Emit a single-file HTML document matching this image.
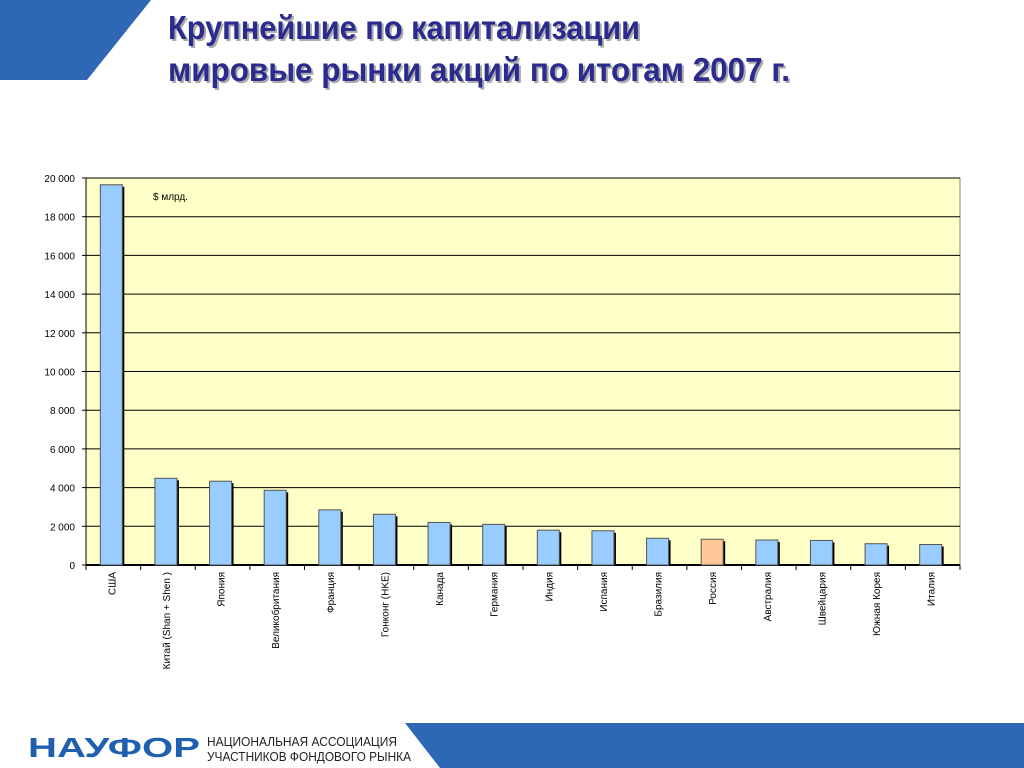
<!DOCTYPE html>
<html><head><meta charset="utf-8"><style>
body{margin:0;width:1024px;height:768px;background:#fff;overflow:hidden;position:relative;font-family:"Liberation Sans",sans-serif}
</style></head><body>
<svg width="1024" height="768" style="position:absolute;left:0;top:0">
<polygon points="0,0 151,0 87,80 0,80" fill="#2e68b4"/>
<g font-family="Liberation Sans" font-weight="bold" font-size="33" lengthAdjust="spacingAndGlyphs">
<text x="170" y="41" fill="#aaa" textLength="472" lengthAdjust="spacingAndGlyphs">Крупнейшие по капитализации</text>
<text x="170" y="83" fill="#aaa" textLength="622" lengthAdjust="spacingAndGlyphs">мировые рынки акций по итогам 2007 г.</text>
<text x="168" y="39" fill="#2b2b8f" textLength="472" lengthAdjust="spacingAndGlyphs">Крупнейшие по капитализации</text>
<text x="168" y="81" fill="#2b2b8f" textLength="622" lengthAdjust="spacingAndGlyphs">мировые рынки акций по итогам 2007 г.</text>
</g>
<polygon points="405,723 1024,723 1024,768 440,768" fill="#2e68b4"/>
<text x="28" y="757" font-family="Liberation Sans" font-weight="bold" font-size="28" fill="#1f5fb0" textLength="172" lengthAdjust="spacingAndGlyphs">НАУФОР</text>
<text x="207" y="746" font-family="Liberation Sans" font-size="13" fill="#222" textLength="190" lengthAdjust="spacingAndGlyphs">НАЦИОНАЛЬНАЯ АССОЦИАЦИЯ</text>
<text x="207" y="761" font-family="Liberation Sans" font-size="13" fill="#222" textLength="204" lengthAdjust="spacingAndGlyphs">УЧАСТНИКОВ ФОНДОВОГО РЫНКА</text>
<g id="chart"></g>
</svg>
<script>
const categories=["США","Китай (Shan + Shen )","Япония","Великобритания","Франция","Гонконг (HKE)","Канада","Германия","Индия","Испания","Бразилия","Россия","Австралия","Швейцария","Южная Корея","Италия"];
const values=[19650,4480,4330,3860,2850,2620,2200,2100,1800,1770,1380,1330,1290,1270,1100,1060];
const highlight=["Россия"];
const yTicks=[0,2000,4000,6000,8000,10000,12000,14000,16000,18000,20000];
const tickLabels=["0","2 000","4 000","6 000","8 000","10 000","12 000","14 000","16 000","18 000","20 000"];
const NS="http://www.w3.org/2000/svg";
const g=document.getElementById("chart");
const L=86,R=960,T=178,B=565,yMax=20000;
const y=v=>B-(v/yMax)*(B-T);
const bw=(R-L)/categories.length;
const x=i=>L+bw*i;
function mk(t,a,p){const e=document.createElementNS(NS,t);for(const k in a)e.setAttribute(k,a[k]);(p||g).appendChild(e);return e;}
const bg=mk("rect",{x:L,y:T,width:R-L,height:B-T,fill:"#ffffc8",stroke:"#888"});


yTicks.forEach((v,i)=>{
 if(v>0){const gl=mk("line",{x1:L,x2:R,y1:y(v),y2:y(v),stroke:"#000","stroke-width":1});
 
 }
 mk("line",{x1:L-4,x2:L,y1:y(v),y2:y(v),stroke:"#000"});
 const t=mk("text",{x:L-11,y:y(v)+4,"text-anchor":"end","font-size":10,"font-family":"Liberation Sans",fill:"#000"});
 t.textContent=tickLabels[i];
 
 
});
mk("line",{x1:L,x2:L,y1:T,y2:B,stroke:"#000"});
mk("line",{x1:L,x2:R,y1:B,y2:B,stroke:"#000","stroke-width":2});
categories.forEach((c,i)=>{
 mk("line",{x1:x(i),x2:x(i),y1:B,y2:B+5,stroke:"#000"});
 const cx=x(i)+bw/2-2, w=22;
 mk("rect",{x:cx-w/2+2,y:y(values[i])+2,width:w,height:B-y(values[i])-2,fill:"#000"});
 const b=mk("rect",{x:cx-w/2,y:y(values[i]),width:w,height:B-y(values[i]),fill:highlight.includes(c)?"#ffc896":"#99ccff",stroke:"#555","stroke-width":1});
 
 
 const t=mk("text",{transform:`translate(${cx+4},572) rotate(-90)`,"text-anchor":"end","font-size":10,"font-family":"Liberation Sans",fill:"#000"});
 t.textContent=c;
 
 
});
mk("line",{x1:R,x2:R,y1:B,y2:B+5,stroke:"#000"});
const u=mk("text",{x:153,y:200,"font-size":10,"font-family":"Liberation Sans",fill:"#000"});
u.textContent="$ млрд.";


</script>
</body></html>
